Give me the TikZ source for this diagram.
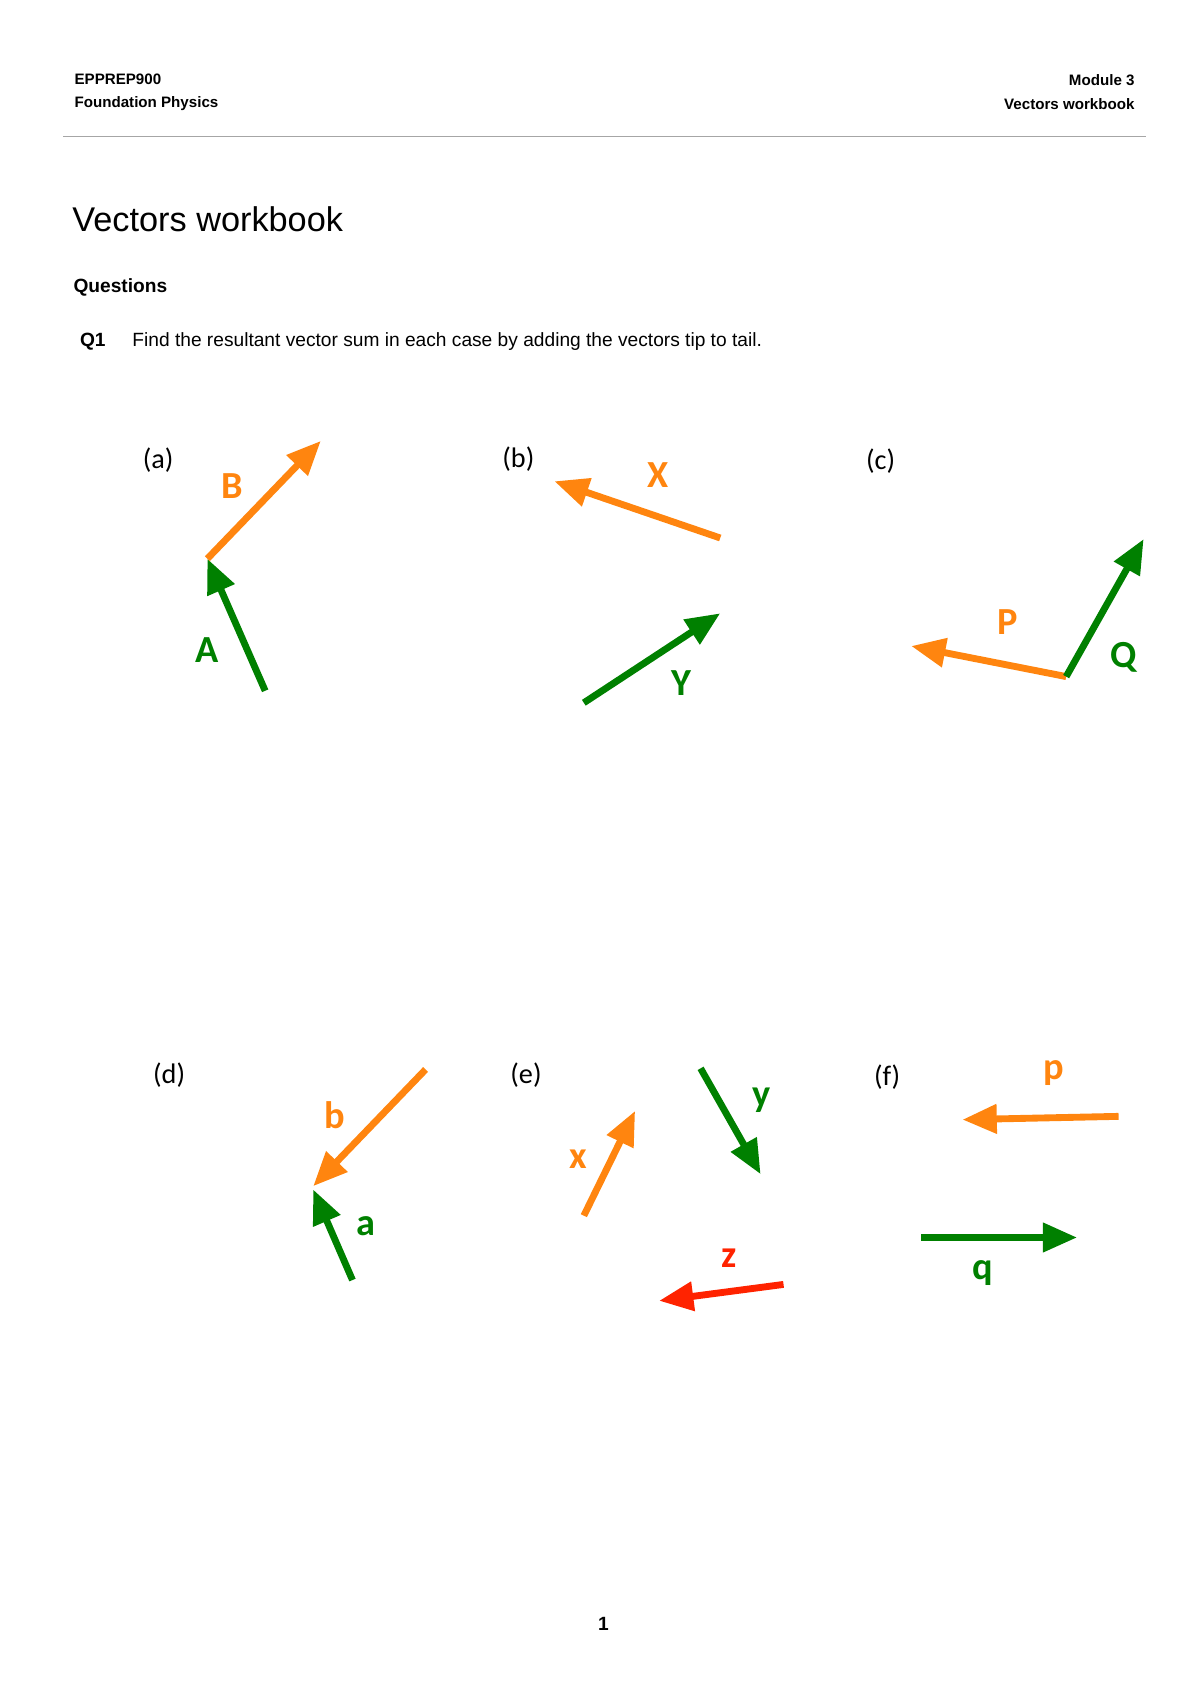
\documentclass[tikz,border=0pt]{standalone}
\usepackage{fontspec}
\setmainfont{Liberation Sans}
\newfontfamily\calfnt{Carlito}
\usetikzlibrary{arrows.meta}
\definecolor{vor}{RGB}{255,133,15}
\definecolor{vgr}{RGB}{0,128,0}
\definecolor{vrd}{RGB}{255,35,0}
\tikzset{
 vec/.style={line width=3.4pt,-{Triangle[length=17pt,width=14pt]}},
 lab/.style={font=\calfnt\fontsize{19}{19}\selectfont\bfseries,inner sep=0pt},
 part/.style={font=\calfnt\fontsize{14}{14}\selectfont,inner sep=0pt},
}
\begin{document}
\begin{tikzpicture}[x=0.541pt,y=-0.541pt]
\useasboundingbox (0,0) rectangle (1100,1556);
% header
\node[anchor=west,font=\fontsize{7.5}{8}\selectfont\bfseries,inner sep=0pt] (h1) at (68,73) {EPPREP900};
\node[anchor=west,font=\fontsize{7.5}{8}\selectfont\bfseries,inner sep=0pt] (h2) at (68,95) {Foundation Physics};
\node[anchor=east,font=\fontsize{7.5}{8}\selectfont\bfseries,inner sep=0pt] (h3) at (1040,73) {Module 3};
\node[anchor=east,font=\fontsize{7.5}{8}\selectfont\bfseries,inner sep=0pt] (h4) at (1040,95) {Vectors workbook};
\draw[gray!70,line width=0.6pt] (58,125) -- (1050,125);
\node[anchor=west,font=\fontsize{17}{18}\selectfont,inner sep=0pt] (title) at (66,201) {Vectors workbook};
\node[anchor=west,font=\fontsize{9.5}{10}\selectfont\bfseries,inner sep=0pt] (qs) at (67,263) {Questions};
\node[anchor=west,font=\fontsize{9.5}{10}\selectfont\bfseries,inner sep=0pt] (q1) at (73,313) {Q1};
\node[anchor=west,font=\fontsize{9.5}{10}\selectfont,inner sep=0pt] (q1t) at (121,313) {Find the resultant vector sum in each case by adding the vectors tip to tail.};
\node[font=\fontsize{9.5}{10}\selectfont\bfseries,inner sep=0pt] (pg) at (553,1488) {1};
% part labels
\node[part] (pa) at (145,422) {(a)};
\node[part] (pb) at (475,421) {(b)};
\node[part] (pc) at (807,423) {(c)};
\node[part] (pd) at (155,985) {(d)};
\node[part] (pe) at (482,985) {(e)};
\node[part] (pf) at (813,987) {(f)};
% (a)
\coordinate (a1) at (243,633); \coordinate (a2) at (190,512); \coordinate (a3) at (294,404);
\draw[vec,vgr] (a1) -- (a2);
\draw[vec,vor] (a2) -- (a3);
\node[lab,vor] (lB) at (213,445) {B};
\node[lab,vgr] (lA) at (190,596) {A};
% (b)
\coordinate (b1) at (660,493); \coordinate (b2) at (508,441);
\coordinate (b3) at (535,644); \coordinate (b4) at (660,562);
\draw[vec,vor] (b1) -- (b2);
\draw[vec,vgr] (b3) -- (b4);
\node[lab,vor] (lX) at (603,435) {X};
\node[lab,vgr] (lY) at (624,626) {Y};
% (c)
\coordinate (c1) at (977,620); \coordinate (c2) at (835,592); \coordinate (c3) at (1048,494);
\draw[vec,vor] (c1) -- (c2);
\draw[vec,vgr] (c1) -- (c3);
\node[lab,vor] (lP) at (923,570) {P};
\node[lab,vgr] (lQ) at (1030,602) {Q};
% (d)
\coordinate (d1) at (390,980); \coordinate (d2) at (287,1087);
\coordinate (d3) at (323,1173); \coordinate (d4) at (287,1090);
\draw[vec,vor] (d1) -- (d2);
\draw[vec,vgr] (d3) -- (d4);
\node[lab,vor] (lb) at (307,1022) {b};
\node[lab,vgr] (la) at (335,1124) {a};
% (e)
\coordinate (e1) at (535,1114); \coordinate (e2) at (582,1018);
\coordinate (e3) at (642,979); \coordinate (e4) at (697,1076);
\coordinate (e5) at (718,1177); \coordinate (e6) at (604,1192);
\draw[vec,vor] (e1) -- (e2);
\draw[vec,vgr] (e3) -- (e4);
\draw[vec,vrd] (e5) -- (e6);
\node[lab,vor] (lx) at (530,1062) {x};
\node[lab,vgr] (ly) at (698,1008) {y};
\node[lab,vrd] (lz) at (668,1153) {z};
% (f)
\coordinate (f1) at (1025,1023); \coordinate (f2) at (882,1026);
\coordinate (f3) at (844,1134); \coordinate (f4) at (987,1134);
\draw[vec,vor] (f1) -- (f2);
\draw[vec,vgr] (f3) -- (f4);
\node[lab,vor] (lp) at (966,983) {p};
\node[lab,vgr] (lq) at (901,1167) {q};
\end{tikzpicture}
\end{document}
